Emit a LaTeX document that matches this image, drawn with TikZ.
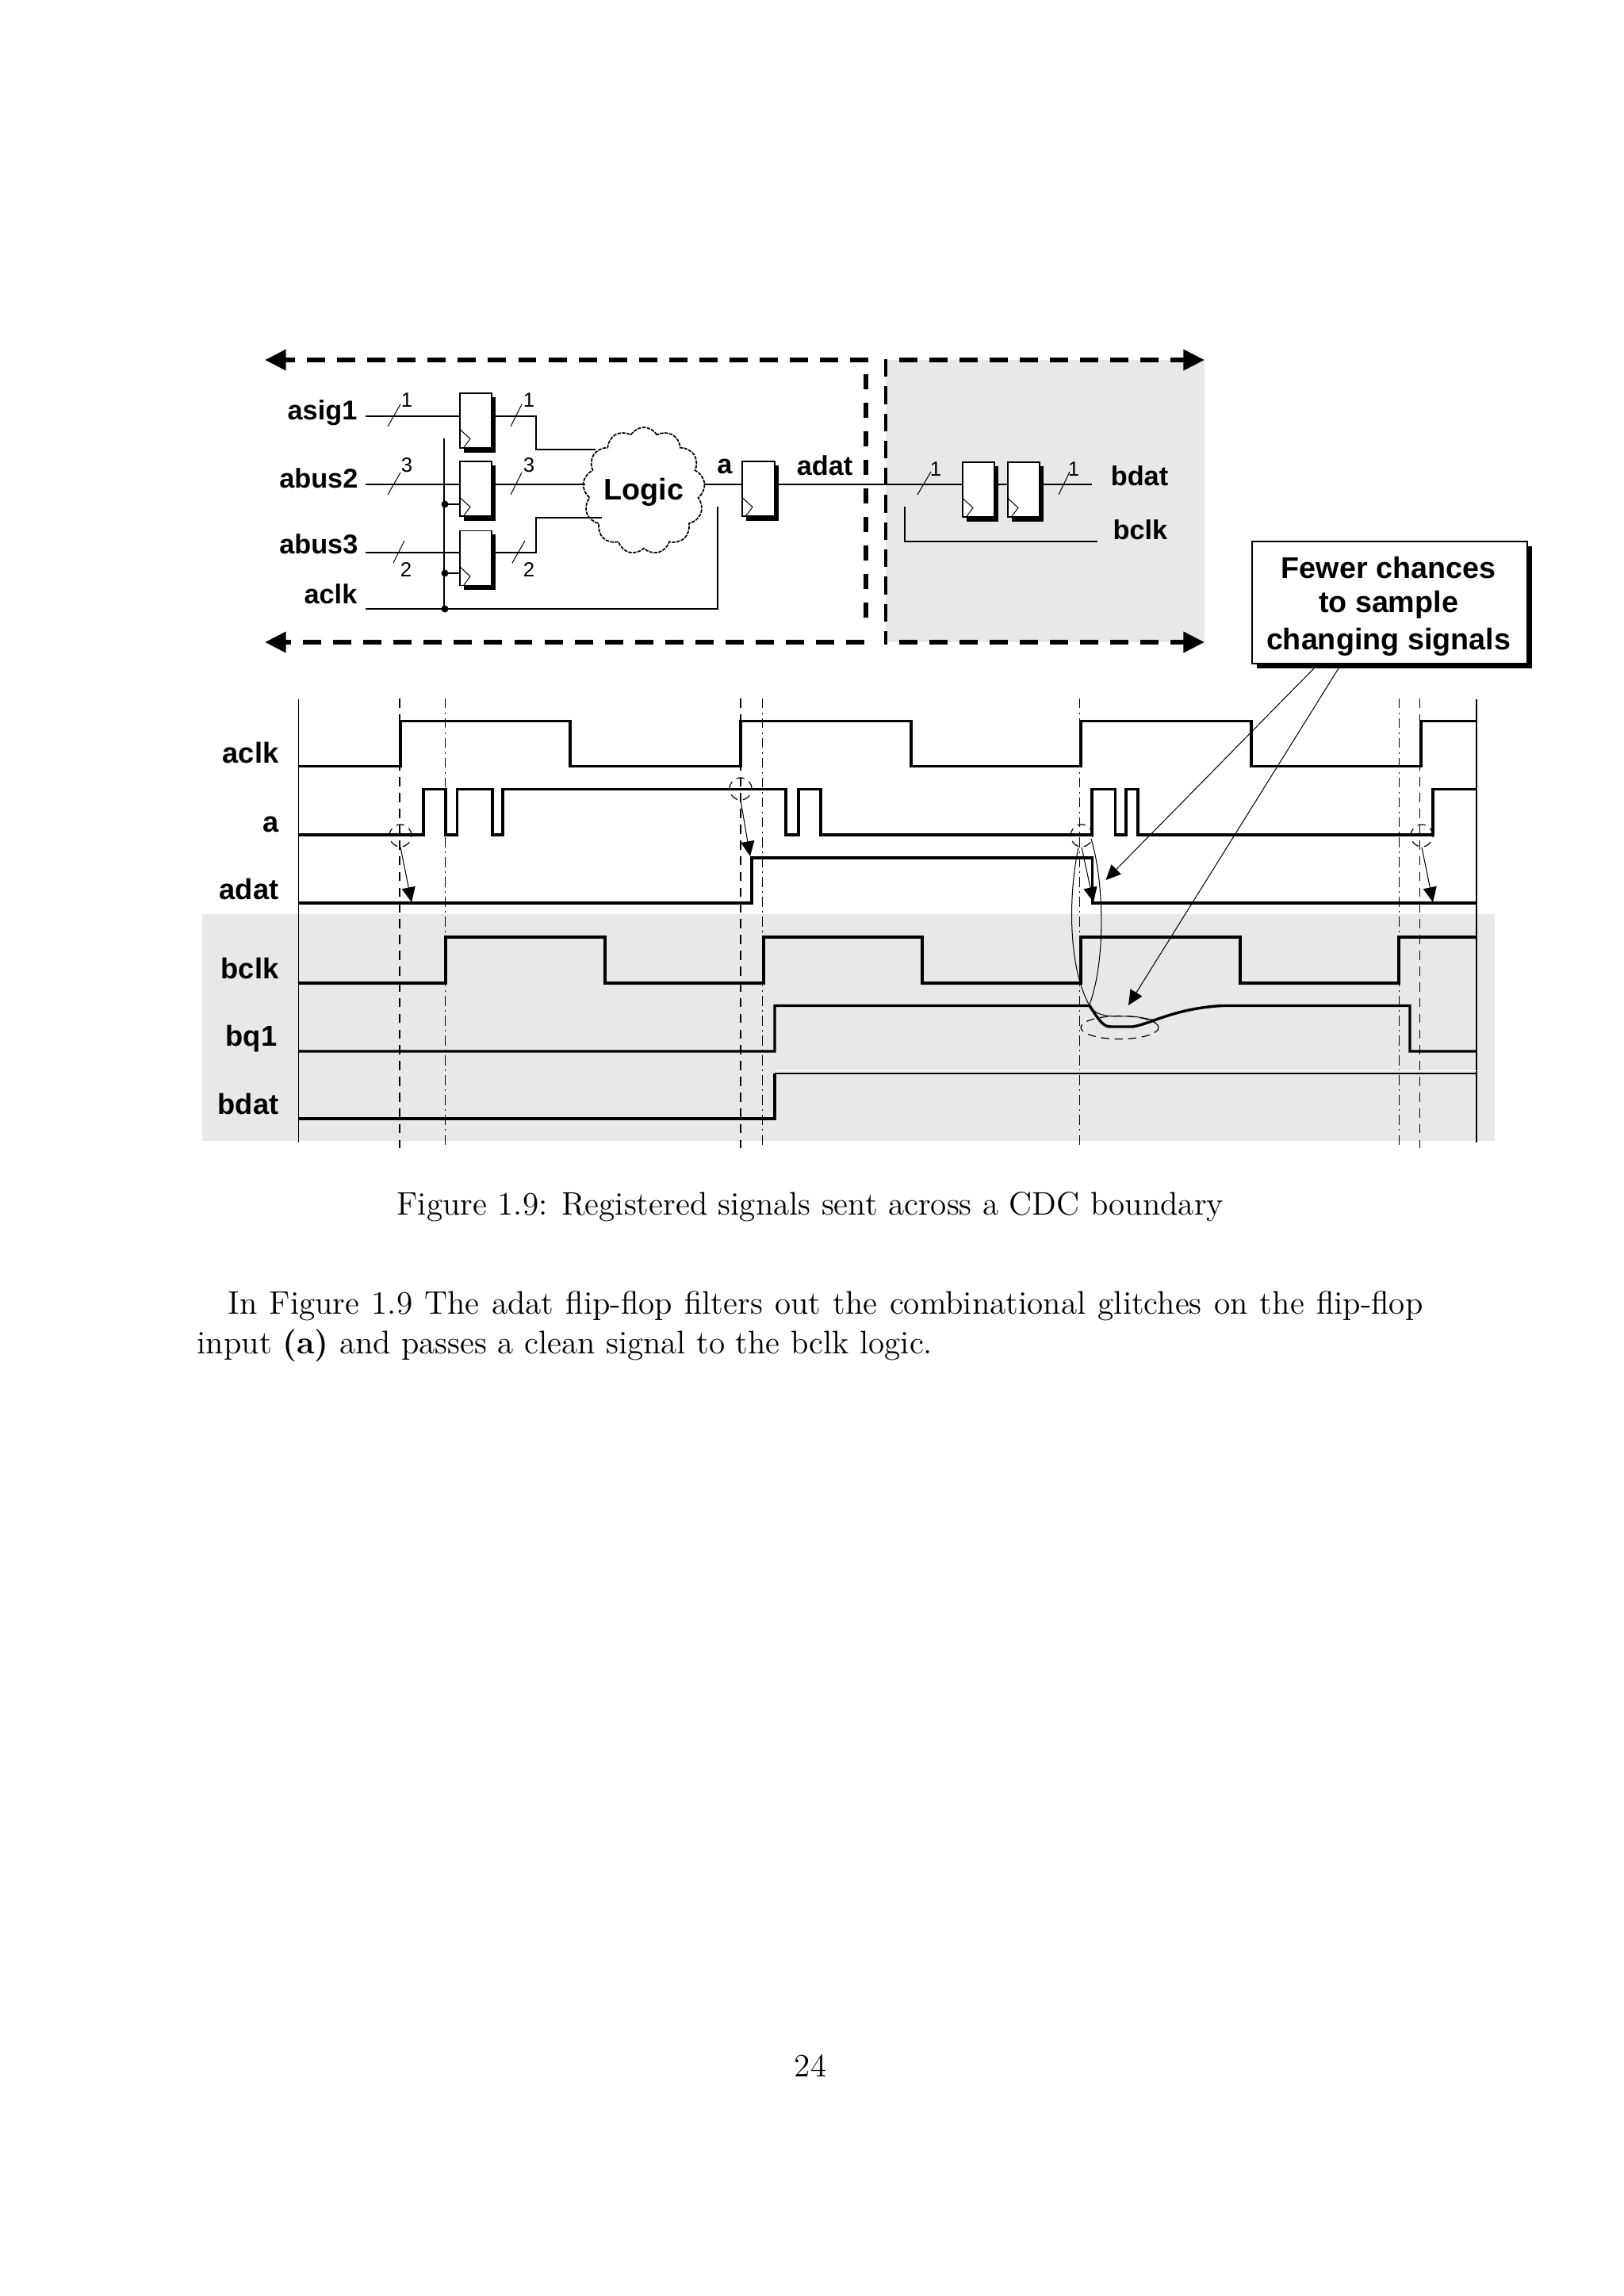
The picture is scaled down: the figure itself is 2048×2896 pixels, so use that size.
\documentclass[tikz,border=0pt]{standalone}
\usepackage{fontspec}
\usetikzlibrary{positioning,calc,arrows.meta,shapes.symbols,shapes.geometric}
\newfontfamily\diagfont{Liberation Sans}
\def\pxu{0.01025cm}
\tikzset{
  sig/.style={font=\diagfont\bfseries\fontsize{10}{11}\selectfont,inner sep=0pt,text depth=0pt},
  wname/.style={font=\diagfont\bfseries\fontsize{10.6}{12}\selectfont,inner sep=0pt,text depth=0pt,anchor=east},
  buswd/.style={font=\diagfont\fontsize{7.5}{8}\selectfont,inner sep=0pt},
  bodytext/.style={font=\fontsize{12}{14}\selectfont,inner sep=0pt,anchor=base west},
  flop/.style={draw,fill=white,line width=0.55pt,inner sep=0pt,minimum width=40*\pxu,minimum height=69*\pxu},
  wire/.style={line width=0.5pt},
  thinwire/.style={line width=0.3pt},
  bound/.style={line width=1.75pt,dash pattern=on 6.7pt off 4.4pt},
  boundv/.style={line width=1.75pt,dash pattern=on 5.5pt off 5pt},
  boundw/.style={line width=1.2pt,dash pattern=on 6.5pt off 3.5pt},
  wave/.style={line width=1pt,line join=miter},
  guide/.style={line width=0.3pt,dash pattern=on 3.4pt off 2.4pt},
  guidedot/.style={line width=0.25pt,dash pattern=on 3.6pt off 1.5pt on 0.7pt off 1.5pt},
  lookat/.style={line width=0.35pt,densely dashed},
  cause/.style={line width=0.3pt,-{Triangle[length=5.5pt,width=5pt]}},
  bigtip/.style={-{Triangle[length=7.8pt,width=7.4pt]}}
}
\begin{document}
\begin{tikzpicture}[x=0.01025cm,y=-0.01025cm]
\useasboundingbox (0,0) rectangle (2048,2896);
\fill[white] (0,0) rectangle (2048,2896);

% shaded side of the schematic and of the waveforms
\fill[black!9] (1117,454) rectangle (1519,810);
\fill[black!9] (255,1153) rectangle (1885,1439);

% boundary
\coordinate (topl) at (334,454); \coordinate (topm) at (1095,454);
\coordinate (topn) at (1134,454); \coordinate (topr) at (1519,454);
\coordinate (botl) at (334,810); \coordinate (botm) at (1090,810);
\coordinate (botn) at (1134,810); \coordinate (botr) at (1519,810);
\draw[bound,bigtip] (topm) -- (topl);
\draw[bound,bigtip] (topn) -- (topr);
\draw[bound,bigtip] (botm) -- (botl);
\draw[bound,bigtip] (botn) -- (botr);
\coordinate (cdca) at (1092,472); \coordinate (cdcb) at (1092,795);
\coordinate (cdcc) at (1117,453); \coordinate (cdcd) at (1117,813);
\draw[boundv] (cdca) -- (cdcb);
\draw[boundw] (cdcc) -- (cdcd);

% flip-flops
\foreach \name/\x/\y/\fw in {ffa/600/530.5/40,ffb/600/616.5/40,ffc/600/704/40,ffd/956.5/616.5/41,ffe/1234/617.5/40,fff/1291/617.5/40}{
  \fill (\x-\fw/2+5,\y-30) rectangle (\x+\fw/2+5,\y+40);
  \node[flop,minimum width=\fw*\pxu] (\name) at (\x,\y) {};
  \draw[thinwire] (\x-\fw/2,\y+11) -- (\x-\fw/2+13,\y+23) -- (\x-\fw/2+4,\y+35);
}

\node[cloud,draw,dash pattern=on 1.3pt off 0.4pt,line width=0.5pt,fill=white,cloud puffs=13,cloud puff arc=120,aspect=1,
  minimum width=154*\pxu,minimum height=160*\pxu,inner sep=0pt] (logic) at (812,619) {};
\node[font=\diagfont\bfseries\fontsize{11}{13}\selectfont,inner sep=0pt] (logictxt) at (812,621) {Logic};

% inputs of the first flip-flops
\coordinate (asigin) at (461,525); \coordinate (abusbin) at (461,611); \coordinate (abuscin) at (461,697);
\draw[wire] (asigin) -- (asigin -| ffa.west);
\draw[wire] (abusbin) -- (abusbin -| ffb.west);
\draw[wire] (abuscin) -- (abuscin -| ffc.west);

% into the cloud
\coordinate (logica) at (751,567); \coordinate (logicb) at (738,611); \coordinate (logicc) at (759,653);
\coordinate (qa) at (625,525); \coordinate (qb) at (625,611); \coordinate (qc) at (625,697);
\coordinate (benda) at (676,525); \coordinate (bendc) at (676,697);
\draw[wire] (qa) -- (benda) |- (logica);
\draw[wire] (qb) -- (logicb);
\draw[wire] (qc) -- (bendc) |- (logicc);
\coordinate (logicout) at (888,611); \coordinate (qd) at (982,611); \coordinate (qe) at (1259,611);
\coordinate (qf) at (1316,611); \coordinate (bdatout) at (1377,611);
\draw[wire] (logicout) -- (logicout -| ffd.west);
\draw[wire] (qd) -- (qd -| ffe.west);
\draw[wire] (qe) -- (qe -| fff.west);
\draw[wire] (qf) -- (bdatout);

% clocks
\coordinate (clktop) at (560,553); \coordinate (clkbot) at (560,772);
\coordinate (clkin) at (461,768); \coordinate (clkturn) at (905,768); \coordinate (clkend) at (905,639);
\draw[thinwire] (clktop) -- (clkbot);
\draw[wire] (clkin) -- (clkturn) -- (clkend);
\foreach \name/\x/\y in {dotb/561/636,dotc/561/723,dotd/561/768}{
  \fill (\x,\y) circle (4.5);
  \coordinate (\name) at (\x,\y);
}
\draw[wire] (dotb) -- (dotb -| ffb.west);
\draw[wire] (dotc) -- (dotc -| ffc.west);
\coordinate (bclktop) at (1141,639); \coordinate (bclkturn) at (1141,683); \coordinate (bclkin) at (1384,683);
\draw[wire] (bclktop) -- (bclkturn) -- (bclkin);

% bus widths
\foreach \xa/\ya/\xb/\yb/\n/\lx/\ly in {489/538/505/510/1/513/505,644/538/658/510/1/667/505,489/624/505/596/3/513/587,644/624/658/596/3/667/587,
  496/710/510/682/2/512/719,646/710/662/682/2/667/719,1157/624/1174/595/1/1180/592,1335/624/1349/595/1/1354/592}{
  \draw[thinwire] (\xa,\ya) -- (\xb,\yb);
  \node[buswd] (wd\lx\ly) at (\lx,\ly) {\n};
}

% names in the schematic
\node[sig,anchor=east] (lasig) at (451,517) {asig1};
\node[sig,anchor=east] (labusb) at (452,603) {abus2};
\node[sig,anchor=east] (labusc) at (452,686) {abus3};
\node[sig,anchor=east] (laclk) at (451,749) {aclk};
\node[sig] (la) at (914,588) {a};
\node[sig] (ladat) at (1040,587) {adat};
\node[sig] (lbdat) at (1437,600) {bdat};
\node[sig] (lbclk) at (1438,668) {bclk};

% guides
\foreach \x in {504,934,1790.5}{\draw[guide] (\x,881) -- (\x,1448);}
\foreach \x in {561,961,1361,1764}{\draw[guidedot] (\x,881) -- (\x,1444);}
\draw[line width=0.5pt] (376.5,882) -- (376.5,1441) (1862,882) -- (1862,1441);

% waveforms
\draw[wave] (376,966.5) -| (505,909.5) -| (719,966.5) -| (934,909.5) -| (1149,966.5) -| (1363,909.5) -| (1578,966.5) -| (1792,909.5) -- (1862,909.5);
\draw[wave] (376,1052.8) -| (534,995.7) -| (562,1052.8) -| (576.5,995.7) -| (621,1052.8) -| (634,995.7) -| (991,1052.8) -| (1007,995.7) -| (1035,1052.8) -| (1377,995.7) -| (1406.5,1052.8) -| (1420,995.7) -| (1435,1052.8) -| (1807,995.7) -- (1862,995.7);
\draw[wave] (376,1139) -| (948,1082) -| (1377.5,1139) -- (1862,1139);
\draw[wave] (376,1240) -| (562,1182) -| (763,1240) -| (963,1182) -| (1163,1240) -| (1363,1182) -| (1564,1240) -| (1764,1182) -- (1862,1182);
\draw[wave] (376,1326) -| (977,1268.5) -- (1374,1268.5) .. controls (1388,1290) and (1392,1295) .. (1401,1295) -- (1428,1295) .. controls (1450,1292) and (1480,1272) .. (1541,1268.5) -| (1778,1326) -- (1862,1326);
\draw[wave] (376,1411) -| (977,1354);
\draw[white,line width=0.3pt] (977,1350.5) -- (1862,1350.5);
\draw[line width=0.55pt] (977,1354) -- (1862,1354);

% sampling points
\foreach \name/\x/\y in {sa/505/1054,sb/934/995,sc/1364/1054,sd/1793/1054}{
  \node[draw,lookat,circle,inner sep=0pt,minimum size=28*\pxu] (\name) at (\x,\y) {};
}
\coordinate (ta) at (519,1138); \coordinate (tb) at (946,1080);
\coordinate (tc) at (1379,1138); \coordinate (td) at (1807,1138);
\draw[cause] (sa.south) -- (ta);
\draw[cause] (sb.south) -- (tb);
\draw[cause] (sc.south) -- (tc);
\draw[cause] (sd.south) -- (td);

% glitch on bq1
\node[draw,lookat,ellipse,inner sep=0pt,minimum width=98*\pxu,minimum height=29*\pxu] (dip) at (1412,1296) {};
\draw[thinwire] (1360,1069) .. controls (1347,1130) and (1347,1220) .. (1374,1268.5) .. controls (1385,1286) and (1410,1281) .. (1428,1282) .. controls (1440,1283) and (1450,1286) .. (1459,1287);
\draw[thinwire] (1376,1058) .. controls (1392,1110) and (1395,1210) .. (1374,1267);

% callout
\fill (1585,689) rectangle (1932,843);
\node[draw,fill=white,line width=0.7pt,minimum width=347*\pxu,minimum height=154*\pxu,inner sep=0pt] (note) at (1752.5,760) {};
\node[font=\diagfont\bfseries\fontsize{11}{13}\selectfont,inner sep=0pt] (notea) at (1751,716) {Fewer chances};
\node[font=\diagfont\bfseries\fontsize{11}{13}\selectfont,inner sep=0pt] (noteb) at (1751,763) {to sample};
\node[font=\diagfont\bfseries\fontsize{11}{13}\selectfont,inner sep=0pt] (notec) at (1751,810) {changing signals};
\coordinate (notel) at (1657,843); \coordinate (noter) at (1688,843);
\coordinate (dipa) at (1394.5,1110); \coordinate (dipb) at (1423,1268);
\draw[cause] (notel) -- (dipa);
\draw[cause] (noter) -- (dipb);

% names of the waveforms
\node[wname] (waclk) at (352,949) {aclk};
\node[wname] (wa) at (352,1040) {a};
\node[wname] (wadat) at (352,1121) {adat};
\node[wname] (wbclk) at (352,1221) {bclk};
\node[wname] (wbq) at (350,1306) {bq1};
\node[wname] (wbdat) at (352,1392) {bdat};

% page text
\node[bodytext] (caption) at (500,1532) {Figure 1.9: Registered signals sent across a CDC boundary};
\node[bodytext] (parafirst) at (287,1657) {\makebox[15.45cm][s]{In Figure 1.9 The adat flip-flop filters out the combinational glitches on the flip-flop}};
\node[bodytext] (parasecond) at (248,1707) {input \textbf{(a)} and passes a clean signal to the bclk logic.};
\node[bodytext,anchor=base] (pageno) at (1022,2619) {24};
\end{tikzpicture}
\end{document}
